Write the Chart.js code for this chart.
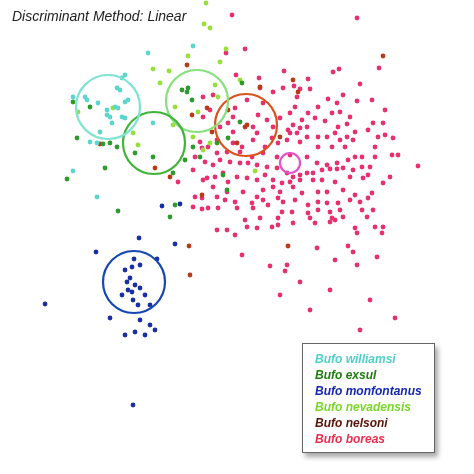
<!DOCTYPE html>
<html><head><meta charset="utf-8">
<script src="https://cdn.jsdelivr.net/npm/chart.js@4"></script>
<style>
html,body{margin:0;padding:0;background:#fff;}
#wrap{position:relative;width:474px;height:474px;}
#title{position:absolute;left:12px;top:8px;font:italic 14px "Liberation Sans",Arial,sans-serif;color:#222;}
#legend{position:absolute;left:302px;top:343px;width:133px;height:110px;background:#fff;border:1.5px solid #666;box-shadow:3px 4px 5px rgba(0,0,0,0.35);box-sizing:border-box;padding:7px 0 0 12px;font:italic bold 12px "Liberation Sans",Arial,sans-serif;line-height:16px;}
</style></head><body>
<div id="wrap"><canvas id="c" width="474" height="474"></canvas>
<div id="title">Discriminant Method: Linear</div>
<div id="legend"></div></div>
<script>
const speciesNames=["Bufo williamsi","Bufo exsul","Bufo monfontanus","Bufo nevadensis","Bufo nelsoni","Bufo boreas"];
const williamsi=[[193,46],[148,53],[125,75],[122,78],[117,88],[120,90],[85,97],[87,100],[98,103],[128,100],[125,102],[107,110],[110,117],[122,117],[125,118],[115,107],[107,115],[112,123],[73,97],[100,132],[90,142],[97,143],[153,123],[73,171],[97,197],[118,108]];
const exsul=[[188,88],[187,92],[182,90],[90,107],[77,138],[103,144],[110,143],[117,147],[135,153],[153,157],[105,168],[67,179],[118,211],[170,217],[175,205],[227,190],[200,157],[185,160],[223,175],[240,122],[242,83],[228,138],[217,143],[192,100],[193,147],[173,173],[73,102]];
const monfontanus=[[162,206],[180,204],[139,238],[175,244],[96,252],[134,259],[157,259],[132,267],[140,265],[125,270],[130,278],[135,285],[128,290],[140,288],[122,295],[133,300],[145,295],[150,305],[138,305],[127,282],[132,292],[45,304],[110,318],[140,320],[150,325],[125,335],[135,332],[145,335],[155,330],[133,405]];
const nevadensis=[[206,3],[204,24],[210,28],[188,56],[220,62],[226,49],[169,71],[153,69],[160,83],[215,85],[218,97],[198,112],[175,107],[173,125],[193,137],[138,145],[133,133],[113,108],[78,112],[210,143],[255,171],[203,150],[240,80]];
const nelsoni=[[187,65],[383,56],[293,80],[298,92],[260,87],[192,115],[228,110],[247,125],[245,127],[237,143],[207,108],[280,137],[212,132],[155,168],[170,177],[100,144],[202,195],[288,246],[190,275],[189,246]];
const boreas=[[232,15],[357,18],[245,49],[226,53],[284,71],[333,72],[339,69],[379,68],[308,79],[259,78],[236,75],[294,86],[300,89],[310,89],[360,84],[283,88],[260,88],[273,92],[297,97],[343,95],[328,99],[372,100],[357,101],[385,110],[337,103],[318,107],[295,107],[203,97],[213,95],[247,100],[263,103],[235,108],[290,113],[308,113],[332,113],[340,112],[350,117],[315,118],[302,120],[280,118],[325,121],[383,123],[373,123],[347,124],[338,127],[293,125],[288,130],[307,127],[300,128],[297,133],[290,133],[318,137],[327,137],[335,133],[355,132],[368,130],[378,137],[385,135],[393,138],[375,147],[347,137],[340,140],[353,140],[345,147],[332,147],[318,147],[307,137],[300,142],[287,140],[278,143],[272,138],[265,147],[257,133],[253,127],[258,115],[233,117],[228,123],[233,132],[220,127],[217,140],[233,143],[242,147],[253,140],[273,127],[267,120],[210,110],[203,117],[200,142],[208,147],[202,148],[217,153],[227,152],[240,152],[252,157],[263,153],[277,157],[290,155],[307,157],[317,163],[327,165],[337,163],[348,160],[355,157],[362,157],[375,157],[392,155],[398,155],[418,166],[370,167],[362,167],[353,170],[343,168],[337,169],[330,169],[322,170],[313,173],[307,173],[300,175],[293,177],[287,173],[277,168],[267,167],[257,165],[248,163],[240,163],[230,162],[220,160],[213,165],[205,162],[195,157],[193,170],[207,178],[215,177],[223,173],[228,182],[237,177],[247,178],[257,180],[265,175],[273,180],[282,183],[290,182],[300,180],[313,180],[322,180],[335,182],[350,177],[363,178],[368,175],[383,183],[390,177],[178,182],[203,180],[213,187],[227,192],[243,192],[257,197],[263,190],[273,187],[280,192],[293,187],[302,193],[318,192],[327,192],[343,190],[355,195],[368,198],[372,193],[195,197],[202,198],[217,197],[225,200],[235,202],[252,203],[263,200],[278,198],[283,202],[295,200],[308,205],[318,202],[327,203],[338,203],[350,200],[360,202],[193,207],[202,209],[208,208],[218,208],[237,208],[253,208],[268,205],[282,212],[292,212],[308,213],[318,210],[330,212],[340,210],[362,210],[373,210],[260,218],[278,218],[310,218],[332,218],[343,217],[367,217],[245,220],[227,230],[217,230],[235,235],[247,227],[257,228],[272,227],[278,225],[293,223],[315,223],[330,222],[335,220],[355,228],[357,233],[375,227],[383,227],[382,233],[242,255],[270,266],[285,271],[287,265],[317,248],[335,260],[348,246],[353,252],[357,265],[377,257],[300,282],[330,290],[280,295],[370,300],[310,310],[360,330],[395,318]];
// circles: [x, y, radius, colour]
const circles=[[108,107,32,"#7fe3d2"],[154,143,31,"#3fb33a"],[197,101,31,"#86e07c"],[246,125,31,"#d9531e"],[290,163,10,"#e055c8"],[134,282,31,"#1747b3"]];
const colors=["#5cd6cc","#2c9a2c","#1a2fa6","#96e03a","#b83a16","#e8306e"];
const sets=[williamsi,exsul,monfontanus,nevadensis,nelsoni,boreas];
const datasets=[];
sets.forEach((s,i)=>datasets.push({data:s.map(p=>({x:p[0],y:p[1]})),backgroundColor:colors[i],borderWidth:0,pointRadius:2.4,order:1,clip:false}));
circles.forEach(c=>datasets.push({data:[{x:c[0],y:c[1]}],pointRadius:c[2],backgroundColor:"rgba(0,0,0,0)",borderColor:c[3],borderWidth:2.2,order:0,clip:false}));
new Chart(document.getElementById('c'),{type:'scatter',data:{datasets},options:{responsive:false,animation:false,events:[],
layout:{padding:0,autoPadding:false},plugins:{legend:{display:false},tooltip:{enabled:false}},
scales:{x:{type:'linear',min:0,max:474,display:false},y:{type:'linear',min:0,max:474,reverse:true,display:false}}}});
const lg=document.getElementById('legend');
speciesNames.forEach((n,i)=>{const d=document.createElement('div');d.textContent=n;d.style.color=["#4fd0c8","#1f7d12","#1428b0","#78d828","#5a1408","#e8304e"][i];lg.appendChild(d);});
</script></body></html>
